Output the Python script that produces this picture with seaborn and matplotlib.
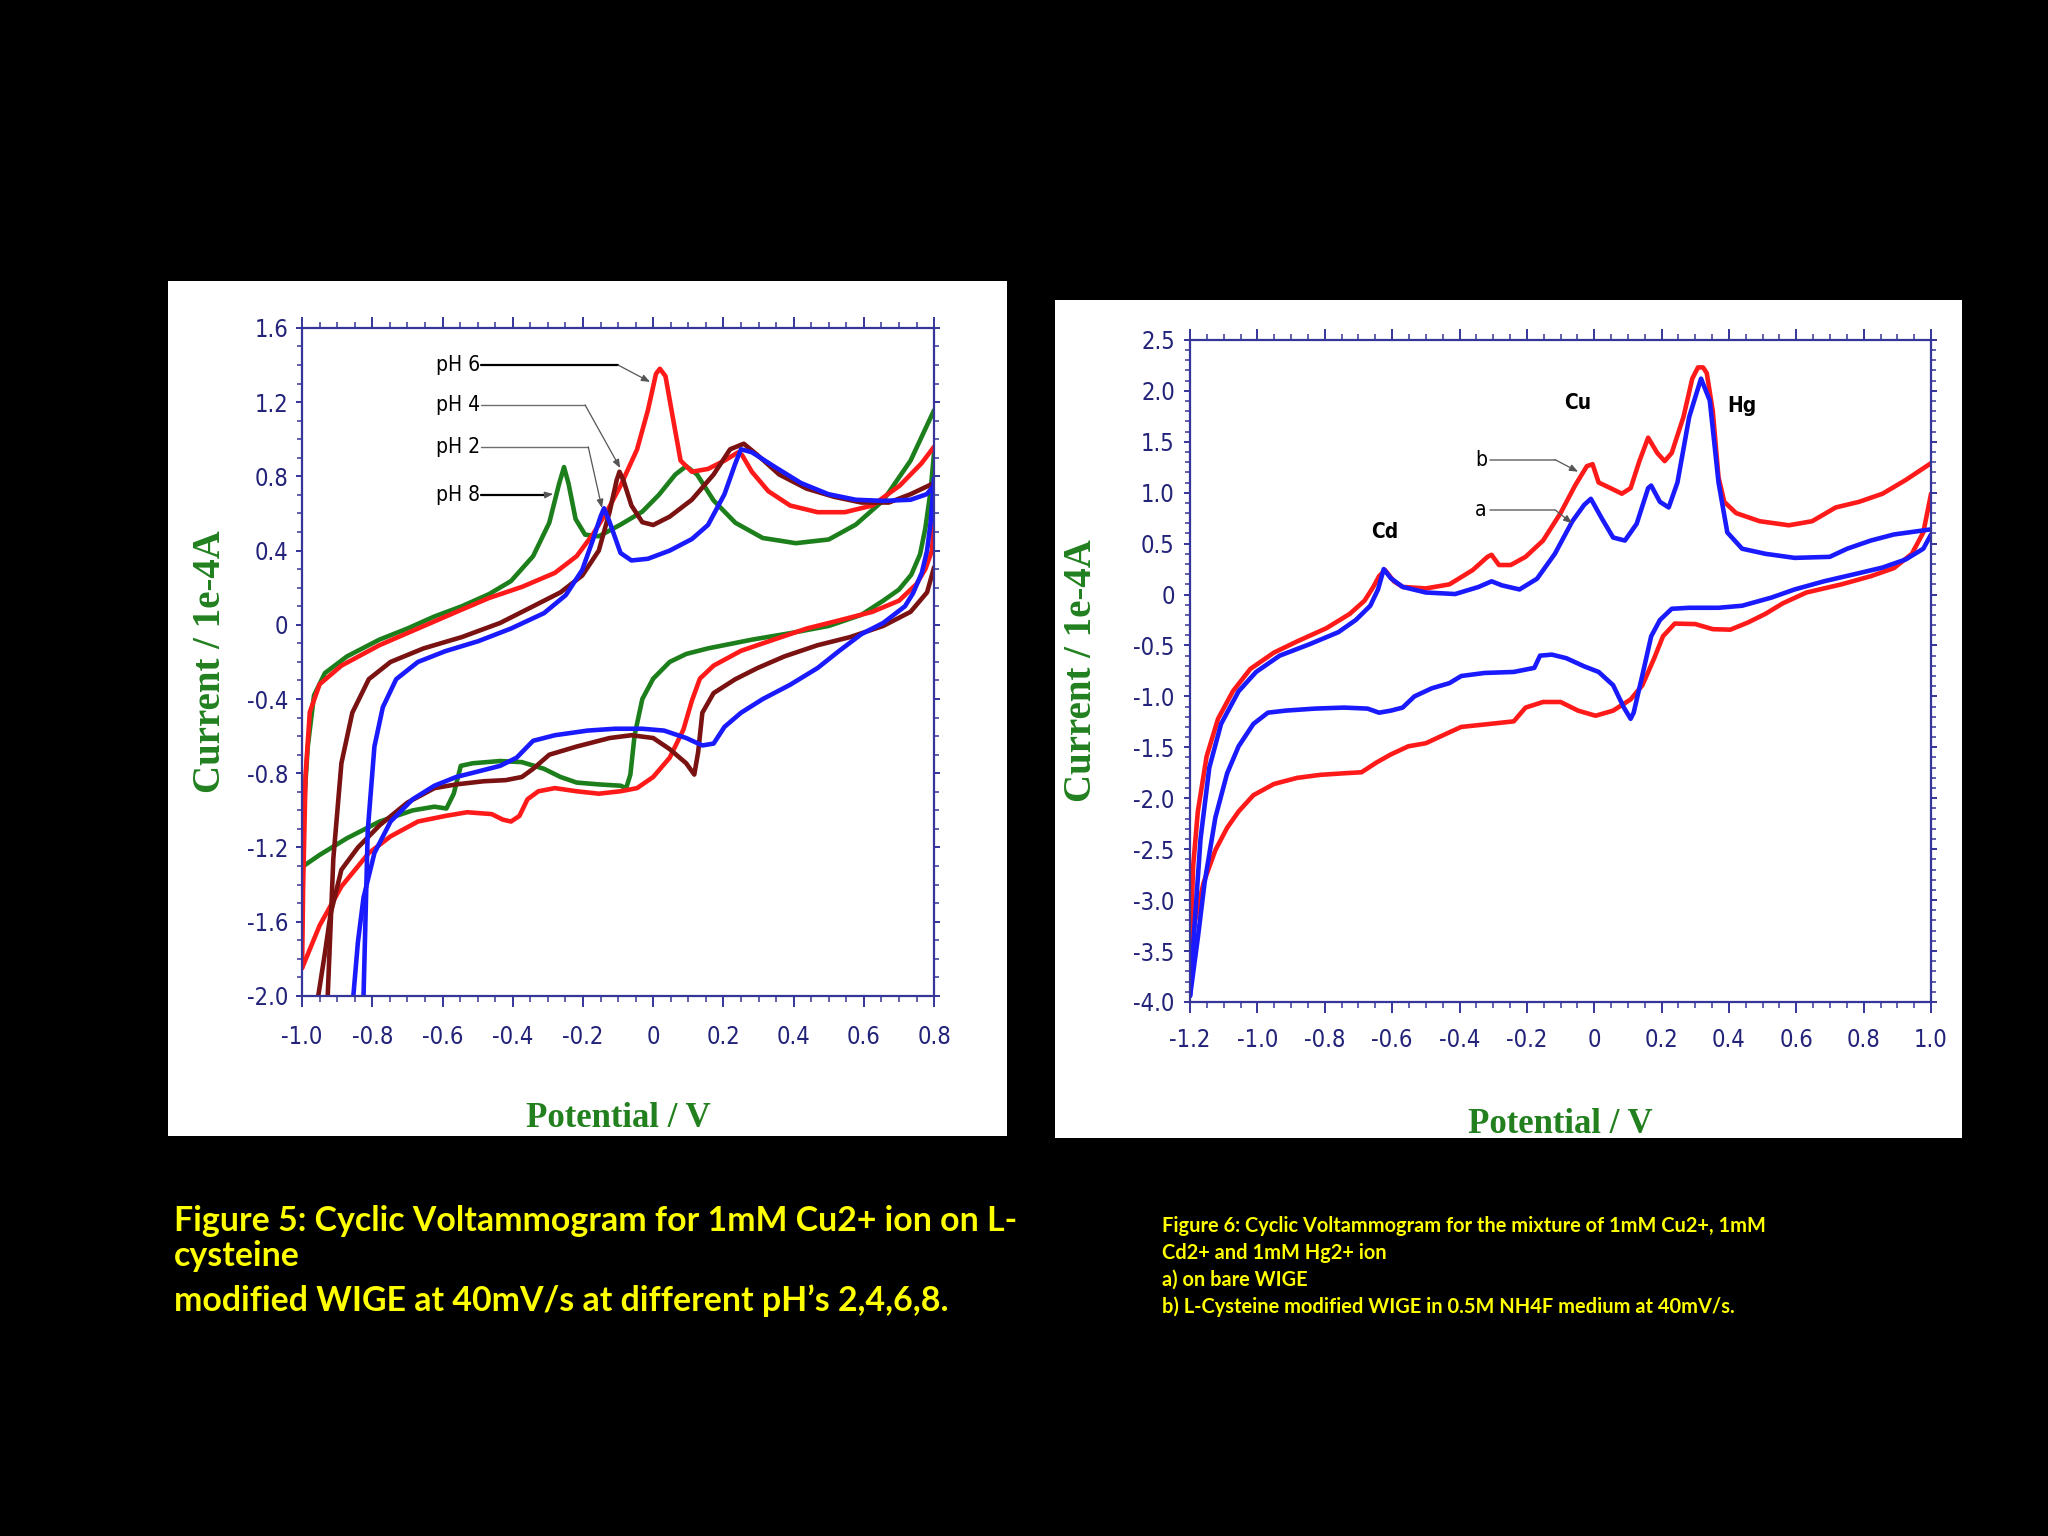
import numpy as np
import pandas as pd
import matplotlib
matplotlib.use("Agg")
import matplotlib.pyplot as plt
import seaborn as sns
from matplotlib.ticker import MultipleLocator, FuncFormatter
from matplotlib.patches import Rectangle

# ---------------- Figure 5 data (Cu2+ at different pH) ----------------
ph8_fwd_v = [-1.0,-0.994,-0.984,-0.966,-0.935,-0.872,-0.78,-0.70,-0.623,-0.545,-0.467,-0.405,-0.342,-0.296,-0.268,-0.254,-0.241,-0.221,-0.194,-0.155,-0.093,-0.031,0.016,0.063,0.094,0.125,0.172,0.234,0.312,0.406,0.50,0.577,0.655,0.733,0.80]
ph8_fwd_i = [-1.305,-0.96,-0.66,-0.38,-0.26,-0.17,-0.08,-0.02,0.045,0.10,0.166,0.236,0.37,0.55,0.76,0.85,0.76,0.57,0.486,0.477,0.54,0.61,0.70,0.81,0.855,0.81,0.67,0.55,0.468,0.44,0.46,0.54,0.67,0.885,1.157]
ph8_rev_v = [0.80,0.79,0.775,0.76,0.735,0.70,0.655,0.593,0.50,0.39,0.281,0.156,0.094,0.047,0.0,-0.031,-0.053,-0.065,-0.077,-0.093,-0.155,-0.218,-0.264,-0.311,-0.374,-0.436,-0.514,-0.548,-0.568,-0.589,-0.623,-0.685,-0.779,-0.872,-0.95,-1.0]
ph8_rev_i = [0.93,0.72,0.52,0.38,0.27,0.19,0.13,0.054,-0.006,-0.045,-0.08,-0.127,-0.157,-0.20,-0.29,-0.40,-0.595,-0.807,-0.88,-0.867,-0.86,-0.85,-0.82,-0.776,-0.74,-0.734,-0.746,-0.76,-0.91,-0.99,-0.98,-1.0,-1.06,-1.15,-1.24,-1.305]

ph6_fwd_v = [-1.0,-0.997,-0.99,-0.978,-0.95,-0.888,-0.78,-0.67,-0.56,-0.467,-0.373,-0.28,-0.218,-0.171,-0.132,-0.093,-0.046,-0.015,0.008,0.019,0.035,0.055,0.078,0.11,0.156,0.203,0.242,0.253,0.281,0.328,0.39,0.468,0.546,0.624,0.702,0.764,0.80]
ph6_fwd_i = [-1.85,-1.41,-0.81,-0.47,-0.32,-0.22,-0.11,-0.02,0.07,0.145,0.205,0.28,0.37,0.49,0.61,0.75,0.945,1.157,1.353,1.38,1.34,1.127,0.885,0.825,0.84,0.885,0.93,0.915,0.825,0.72,0.643,0.607,0.607,0.643,0.75,0.87,0.96]
ph6_rev_v = [0.80,0.794,0.775,0.75,0.70,0.624,0.53,0.437,0.343,0.25,0.172,0.133,0.11,0.086,0.047,0.0,-0.046,-0.093,-0.155,-0.218,-0.28,-0.327,-0.358,-0.381,-0.405,-0.428,-0.46,-0.53,-0.592,-0.67,-0.748,-0.81,-0.888,-0.95,-1.0]
ph6_rev_i = [0.565,0.40,0.30,0.22,0.13,0.07,0.024,-0.02,-0.08,-0.14,-0.22,-0.29,-0.41,-0.565,-0.716,-0.82,-0.88,-0.897,-0.91,-0.897,-0.88,-0.897,-0.94,-1.03,-1.06,-1.05,-1.02,-1.01,-1.03,-1.06,-1.14,-1.23,-1.41,-1.62,-1.85]

ph4_fwd_v = [-0.927,-0.911,-0.888,-0.857,-0.81,-0.748,-0.654,-0.545,-0.436,-0.342,-0.264,-0.202,-0.155,-0.124,-0.104,-0.096,-0.085,-0.062,-0.031,0.0,0.047,0.11,0.172,0.219,0.258,0.297,0.359,0.437,0.515,0.593,0.671,0.733,0.80]
ph4_fwd_i = [-2.0,-1.26,-0.746,-0.474,-0.293,-0.20,-0.127,-0.066,0.01,0.10,0.175,0.266,0.40,0.61,0.78,0.825,0.78,0.643,0.553,0.538,0.583,0.674,0.81,0.946,0.976,0.915,0.81,0.734,0.69,0.659,0.659,0.704,0.764]
ph4_rev_v = [0.80,0.78,0.733,0.655,0.561,0.468,0.374,0.297,0.234,0.172,0.14,0.128,0.117,0.094,0.047,0.0,-0.062,-0.124,-0.218,-0.296,-0.342,-0.374,-0.42,-0.483,-0.561,-0.623,-0.70,-0.779,-0.841,-0.888,-0.919,-0.935,-0.954]
ph4_rev_i = [0.31,0.175,0.07,-0.006,-0.066,-0.11,-0.17,-0.233,-0.293,-0.368,-0.474,-0.686,-0.807,-0.746,-0.67,-0.61,-0.595,-0.61,-0.656,-0.70,-0.776,-0.82,-0.837,-0.843,-0.86,-0.88,-0.958,-1.08,-1.20,-1.32,-1.56,-1.77,-2.0]

ph2_fwd_v = [-0.825,-0.813,-0.794,-0.77,-0.732,-0.67,-0.592,-0.498,-0.405,-0.311,-0.249,-0.202,-0.171,-0.15,-0.14,-0.124,-0.093,-0.062,-0.015,0.047,0.11,0.156,0.203,0.234,0.25,0.281,0.343,0.421,0.499,0.577,0.655,0.733,0.779,0.80]
ph2_fwd_i = [-2.0,-1.11,-0.656,-0.444,-0.293,-0.20,-0.142,-0.088,-0.02,0.063,0.16,0.296,0.462,0.583,0.628,0.553,0.387,0.347,0.356,0.40,0.462,0.538,0.704,0.87,0.946,0.93,0.855,0.764,0.704,0.674,0.668,0.674,0.704,0.75]
ph2_rev_v = [0.80,0.79,0.78,0.765,0.74,0.717,0.655,0.593,0.53,0.468,0.39,0.312,0.25,0.203,0.172,0.14,0.094,0.031,-0.031,-0.109,-0.187,-0.28,-0.342,-0.389,-0.436,-0.498,-0.561,-0.623,-0.685,-0.748,-0.794,-0.825,-0.841,-0.854]
ph2_rev_i = [0.79,0.55,0.40,0.28,0.17,0.10,0.01,-0.05,-0.14,-0.233,-0.323,-0.40,-0.474,-0.55,-0.64,-0.65,-0.61,-0.57,-0.56,-0.56,-0.57,-0.595,-0.625,-0.716,-0.76,-0.79,-0.82,-0.867,-0.94,-1.06,-1.23,-1.47,-1.71,-2.0]

# ---------------- Figure 6 data (Cu/Cd/Hg mixture) ----------------
b_fwd_v = [-1.2,-1.191,-1.177,-1.151,-1.117,-1.073,-1.021,-0.951,-0.882,-0.795,-0.726,-0.682,-0.656,-0.639,-0.621,-0.595,-0.569,-0.50,-0.43,-0.361,-0.317,-0.305,-0.283,-0.248,-0.204,-0.152,-0.10,-0.057,-0.022,-0.005,0.013,0.048,0.082,0.108,0.134,0.16,0.187,0.209,0.23,0.265,0.291,0.308,0.323,0.334,0.352,0.369,0.386,0.421,0.491,0.578,0.647,0.717,0.786,0.856,0.925,1.0]
b_fwd_i = [-3.56,-2.67,-2.13,-1.59,-1.22,-0.95,-0.73,-0.57,-0.46,-0.33,-0.19,-0.06,0.075,0.18,0.24,0.13,0.075,0.06,0.10,0.24,0.37,0.39,0.29,0.29,0.37,0.53,0.80,1.07,1.26,1.28,1.10,1.045,0.99,1.045,1.31,1.54,1.39,1.31,1.39,1.745,2.12,2.23,2.23,2.175,1.80,1.15,0.91,0.80,0.72,0.68,0.72,0.855,0.91,0.99,1.125,1.29]
b_rev_v = [1.0,0.977,0.943,0.89,0.821,0.734,0.63,0.56,0.508,0.456,0.404,0.352,0.30,0.239,0.204,0.178,0.143,0.108,0.056,0.004,-0.048,-0.10,-0.152,-0.204,-0.239,-0.309,-0.395,-0.448,-0.50,-0.552,-0.604,-0.647,-0.691,-0.743,-0.812,-0.882,-0.951,-1.012,-1.056,-1.09,-1.125,-1.16,-1.186,-1.2]
b_rev_i = [0.99,0.61,0.40,0.26,0.18,0.10,0.02,-0.086,-0.19,-0.275,-0.345,-0.34,-0.29,-0.285,-0.41,-0.625,-0.89,-1.03,-1.14,-1.19,-1.14,-1.055,-1.055,-1.11,-1.245,-1.27,-1.30,-1.38,-1.46,-1.49,-1.57,-1.65,-1.745,-1.755,-1.77,-1.80,-1.86,-1.97,-2.13,-2.29,-2.51,-2.83,-3.21,-3.56]

a_fwd_v = [-1.2,-1.186,-1.169,-1.143,-1.108,-1.056,-1.004,-0.934,-0.847,-0.76,-0.708,-0.665,-0.642,-0.625,-0.604,-0.569,-0.50,-0.413,-0.343,-0.305,-0.274,-0.222,-0.17,-0.117,-0.065,-0.03,-0.01,0.022,0.056,0.091,0.126,0.16,0.169,0.195,0.221,0.247,0.282,0.317,0.343,0.369,0.395,0.439,0.508,0.595,0.699,0.751,0.821,0.89,1.0]
a_fwd_i = [-3.94,-3.21,-2.40,-1.70,-1.27,-0.95,-0.76,-0.60,-0.49,-0.37,-0.25,-0.11,0.05,0.25,0.16,0.075,0.02,0.005,0.075,0.13,0.09,0.05,0.155,0.40,0.72,0.88,0.94,0.75,0.56,0.53,0.695,1.045,1.07,0.91,0.855,1.10,1.745,2.12,1.905,1.10,0.61,0.45,0.40,0.36,0.37,0.45,0.53,0.59,0.64]
a_rev_v = [1.0,0.977,0.925,0.856,0.786,0.682,0.595,0.526,0.439,0.369,0.282,0.23,0.195,0.169,0.143,0.117,0.108,0.088,0.056,0.013,-0.03,-0.083,-0.126,-0.161,-0.178,-0.239,-0.326,-0.395,-0.43,-0.482,-0.534,-0.569,-0.604,-0.639,-0.673,-0.743,-0.83,-0.917,-0.969,-1.012,-1.056,-1.09,-1.125,-1.157,-1.177,-1.2]
a_rev_i = [0.59,0.45,0.345,0.265,0.21,0.13,0.05,-0.03,-0.11,-0.13,-0.13,-0.14,-0.25,-0.41,-0.79,-1.16,-1.22,-1.11,-0.89,-0.76,-0.705,-0.625,-0.59,-0.60,-0.72,-0.76,-0.77,-0.80,-0.87,-0.92,-1.00,-1.11,-1.14,-1.16,-1.12,-1.11,-1.12,-1.14,-1.16,-1.27,-1.49,-1.755,-2.19,-2.83,-3.37,-3.94]

# ---------------- annotations ----------------
left_labels = ["pH 6", "pH 4", "pH 2", "pH 8"]
left_label_y = [1.40, 1.185, 0.959, 0.70]
left_line_end = [-0.10, -0.194, -0.185, -0.308]
left_tips = [(-0.009, 1.309), (-0.094, 0.845), (-0.146, 0.63), (-0.285, 0.705)]
left_line_colors = ["black", "#6e6e6e", "#6e6e6e", "black"]

right_peak_labels = ["Cd", "Cu", "Hg"]
right_peak_pos = [(-0.621, 0.615), (-0.048, 1.88), (0.439, 1.85)]
right_curve_labels = ["b", "a"]
right_curve_label_y = [1.325, 0.83]
right_line_end = [-0.117, -0.116]
right_tips = [(-0.048, 1.206), (-0.066, 0.70)]

caption5 = ["Figure 5: Cyclic Voltammogram for 1mM Cu2+ ion on L-",
            "cysteine",
            "modified WIGE at 40mV/s at different pH\u2019s 2,4,6,8."]
caption6 = ["Figure 6: Cyclic Voltammogram for the mixture of 1mM Cu2+, 1mM",
            "Cd2+ and 1mM Hg2+ ion",
            "a) on bare WIGE",
            "b) L-Cysteine modified WIGE in 0.5M NH4F medium at 40mV/s."]

# ---------------- style ----------------
sns.set_style("white")
plt.rcParams["font.family"] = ["DejaVu Sans"]
plt.rcParams["font.stretch"] = "condensed"

NAVY = "#35359a"
LABNAVY = "#23237a"
GREEN = "#22801f"
serif = ["Liberation Serif", "DejaVu Serif"]

fig = plt.figure(figsize=(20.48, 15.36), dpi=100, facecolor="black")
fig.patches.append(Rectangle((0.0820, 0.2604), 0.4097, 0.5566, transform=fig.transFigure,
                             facecolor="white", edgecolor="none", zorder=-5))
fig.patches.append(Rectangle((0.5151, 0.2591), 0.4429, 0.5456, transform=fig.transFigure,
                             facecolor="white", edgecolor="none", zorder=-5))

def frame(curves):
    rows = []
    for name, branches in curves:
        for bname, v, i in branches:
            for x, y in zip(v, i):
                rows.append((name, name + "-" + bname, x, y))
    return pd.DataFrame(rows, columns=["series", "unit", "V", "I"])

def fmt(v, pos):
    if abs(v) < 1e-9:
        return "0"
    return "%.1f" % v

def style_axes(ax, xlim, ylim, xmaj, ymaj, xpad, ypad):
    ax.set_facecolor("white")
    ax.set_xlim(*xlim)
    ax.set_ylim(*ylim)
    ax.xaxis.set_major_locator(MultipleLocator(xmaj))
    ax.xaxis.set_minor_locator(MultipleLocator(0.05))
    ax.yaxis.set_major_locator(MultipleLocator(ymaj))
    ax.yaxis.set_minor_locator(MultipleLocator(0.1))
    ax.xaxis.set_major_formatter(FuncFormatter(fmt))
    ax.yaxis.set_major_formatter(FuncFormatter(fmt))
    for s in ax.spines.values():
        s.set_visible(True)
        s.set_color(NAVY)
        s.set_linewidth(1.6)
    ax.tick_params(axis="x", which="major", direction="out", length=8, width=1.4, color=NAVY,
                   top=True, bottom=True, labelsize=17, labelcolor=LABNAVY, pad=xpad)
    ax.tick_params(axis="x", which="minor", direction="out", length=4.5, width=1.1, color=NAVY,
                   top=True, bottom=True)
    ax.tick_params(axis="y", which="major", direction="out", length=4, width=1.4, color=NAVY,
                   left=True, right=True, labelsize=17, labelcolor=LABNAVY, pad=ypad)
    ax.tick_params(axis="y", which="minor", direction="out", length=3.5, width=1.1, color=NAVY,
                   left=True, right=True)
    ax.grid(False)

# ---------------- left panel ----------------
ax1 = fig.add_axes([0.1475, 0.3516, 0.3086, 0.4349])
df5 = frame([
    ("pH 8", [("f", ph8_fwd_v, ph8_fwd_i), ("r", ph8_rev_v, ph8_rev_i)]),
    ("pH 6", [("f", ph6_fwd_v, ph6_fwd_i), ("r", ph6_rev_v, ph6_rev_i)]),
    ("pH 4", [("f", ph4_fwd_v, ph4_fwd_i), ("r", ph4_rev_v, ph4_rev_i)]),
    ("pH 2", [("f", ph2_fwd_v, ph2_fwd_i), ("r", ph2_rev_v, ph2_rev_i)]),
])
pal5 = {"pH 8": "#1c7f1c", "pH 6": "#ff1a1a", "pH 4": "#7a1212", "pH 2": "#1a1aff"}
sns.lineplot(data=df5, x="V", y="I", hue="series", units="unit", estimator=None, sort=False,
             palette=pal5, legend=False, lw=3.3, ax=ax1)
style_axes(ax1, (-1.0, 0.8), (-2.0, 1.6), 0.2, 0.4, 13, 6)
ax1.set_xlabel("Potential / V", family=serif, fontweight="bold", fontsize=25, color=GREEN, labelpad=38,
               fontstretch="normal")
ax1.set_ylabel("Current / 1e-4A", family=serif, fontweight="bold", fontsize=28, color=GREEN, labelpad=13,
               fontstretch="normal")

for lab, y, xe, tip, col in zip(left_labels, left_label_y, left_line_end, left_tips, left_line_colors):
    ax1.text(-0.493, y, lab, ha="right", va="center", fontsize=15, color="black")
    ax1.plot([-0.49, xe], [y, y], color=col, lw=1.6 if col == "black" else 1.0)
    ax1.annotate("", xy=tip, xytext=(xe, y),
                 arrowprops=dict(arrowstyle="-|>,head_length=0.5,head_width=0.2", color="#555555", lw=0.9,
                                 shrinkA=0, shrinkB=0))

# ---------------- right panel ----------------
ax2 = fig.add_axes([0.5811, 0.3477, 0.3618, 0.4310])
df6 = frame([
    ("b", [("f", b_fwd_v, b_fwd_i), ("r", b_rev_v, b_rev_i)]),
    ("a", [("f", a_fwd_v, a_fwd_i), ("r", a_rev_v, a_rev_i)]),
])
pal6 = {"b": "#ff1a1a", "a": "#1a1aff"}
sns.lineplot(data=df6, x="V", y="I", hue="series", units="unit", estimator=None, sort=False,
             palette=pal6, legend=False, lw=3.3, ax=ax2)
style_axes(ax2, (-1.2, 1.0), (-4.0, 2.5), 0.2, 0.5, 11, 7)
ax2.set_xlabel("Potential / V", family=serif, fontweight="bold", fontsize=25, color=GREEN, labelpad=40,
               fontstretch="normal")
ax2.set_ylabel("Current / 1e-4A", family=serif, fontweight="bold", fontsize=28, color=GREEN, labelpad=24,
               fontstretch="normal")

for lab, (x, y) in zip(right_peak_labels, right_peak_pos):
    ax2.text(x, y, lab, ha="center", va="center", fontsize=15, fontweight="bold", color="black")
for lab, y, xe, tip in zip(right_curve_labels, right_curve_label_y, right_line_end, right_tips):
    ax2.text(-0.337, y, lab, ha="center", va="center", fontsize=15, color="black")
    ax2.plot([-0.31, xe], [y, y], color="#6e6e6e", lw=1.1)
    ax2.annotate("", xy=tip, xytext=(xe, y),
                 arrowprops=dict(arrowstyle="-|>,head_length=0.5,head_width=0.2", color="#555555", lw=0.9,
                                 shrinkA=0, shrinkB=0))

# ---------------- captions ----------------
cap_font = ["Lato", "DejaVu Sans"]
for txt, y in zip(caption5, [0.2051, 0.1823, 0.1530]):
    fig.text(0.085, y, txt, ha="left", va="center", fontsize=24.4, fontweight="bold",
             color="#ffff00", family=cap_font, fontstretch="normal")
for txt, y in zip(caption6, [0.2018, 0.1842, 0.1667, 0.1491]):
    fig.text(0.5674, y, txt, ha="left", va="center", fontsize=14.4, fontweight="bold",
             color="#ffff00", family=cap_font, fontstretch="normal")

fig.savefig("out.png", dpi=100, facecolor="black")
